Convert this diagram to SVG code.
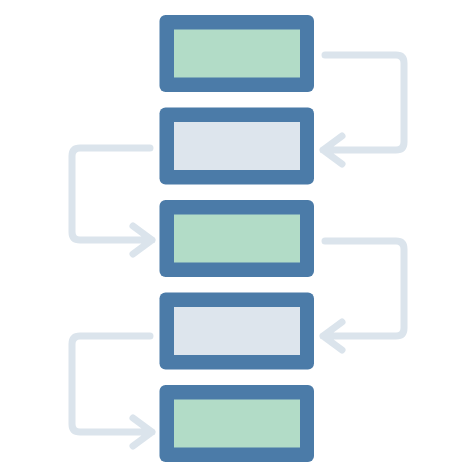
<svg xmlns="http://www.w3.org/2000/svg" width="474" height="474" viewBox="0 0 474 474">
<style>
.outer{fill:#4b7ba8}
.g{fill:#b2dcc7}
.l{fill:#dde5ed}
.c{fill:none;stroke:#dbe4ec;stroke-width:7;stroke-linecap:round;stroke-linejoin:round}
</style>
<rect width="474" height="474" fill="#ffffff"/>
<g id="connectors">
<path class="c" d="M325 55 H396 Q404 55 404 63 V142 Q404 150 396 150 H323 M342 136 L323 150 L342 164"/>
<path class="c" d="M150 148 H80 Q72 148 72 156 V232 Q72 240 80 240 H152 M133 226 L152 240 L133 254"/>
<path class="c" d="M325 241 H396 Q404 241 404 249 V328 Q404 336 396 336 H323 M342 322 L323 336 L342 350"/>
<path class="c" d="M150 336 H80 Q72 336 72 344 V424 Q72 432 80 432 H152 M133 418 L152 432 L133 446"/>
</g>
<g id="node1"><rect class="outer" x="159.5" y="15" width="154.5" height="77" rx="6"/><rect class="g" x="174" y="29.5" width="126" height="48"/></g>
<g id="node2"><rect class="outer" x="159.5" y="107.5" width="154.5" height="77" rx="6"/><rect class="l" x="174" y="122" width="126" height="48"/></g>
<g id="node3"><rect class="outer" x="159.5" y="200" width="154.5" height="77" rx="6"/><rect class="g" x="174" y="214.5" width="126" height="48"/></g>
<g id="node4"><rect class="outer" x="159.5" y="292.5" width="154.5" height="77" rx="6"/><rect class="l" x="174" y="307" width="126" height="48"/></g>
<g id="node5"><rect class="outer" x="159.5" y="385" width="154.5" height="77" rx="6"/><rect class="g" x="174" y="399.5" width="126" height="48"/></g>
</svg>
